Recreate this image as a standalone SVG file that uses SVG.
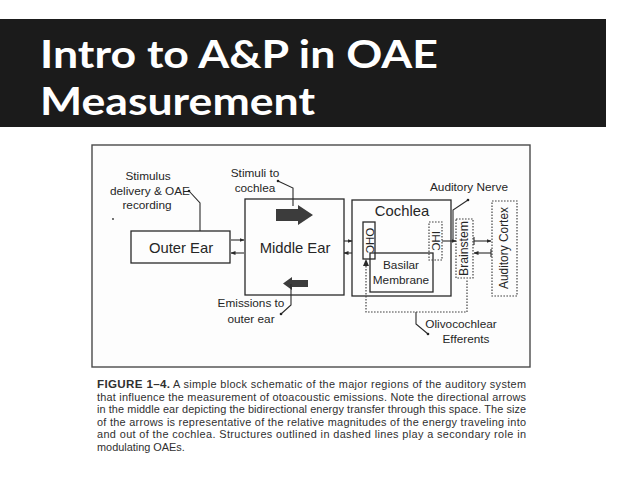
<svg xmlns="http://www.w3.org/2000/svg" width="638" height="479" viewBox="0 0 638 479">
<defs>
<style>
.t{font-family:"Liberation Sans",Arial,sans-serif;fill:#262626}
.lbl{font-size:11.8px}
.big{font-size:14.8px}
.box{fill:none;stroke:#2a2a2a;stroke-width:1.3}
.dash{fill:none;stroke:#444;stroke-width:1.2;stroke-dasharray:1.6 1.4}
.ln{fill:none;stroke:#2a2a2a;stroke-width:1.1}
.cap{font-family:"Liberation Sans",Arial,sans-serif;font-size:10.9px;fill:#303030}
.ttl{font-family:Lato,"Open Sans",sans-serif;font-weight:700;font-size:39px;fill:#ffffff}
</style>
<marker id="ah" viewBox="0 0 10 10" refX="9" refY="5" markerWidth="5" markerHeight="5" orient="auto" markerUnits="userSpaceOnUse">
<path d="M0,1 L10,5 L0,9 z" fill="#2a2a2a"/>
</marker>
</defs>
<rect width="638" height="479" fill="#ffffff"/>
<g id="title">
<rect x="0" y="19" width="606" height="108" fill="#1b1b1b"/>
<text class="ttl" x="40" y="68" textLength="398" lengthAdjust="spacingAndGlyphs">Intro to A&amp;P in OAE</text>
<text class="ttl" x="40" y="115" textLength="275" lengthAdjust="spacingAndGlyphs">Measurement</text>
</g>
<g id="frame"><rect x="92" y="145" width="438" height="222" fill="#fdfdfd" stroke="#4a4a4a" stroke-width="1.4"/></g>
<g id="outer-ear">
<rect class="box" x="131" y="231" width="99" height="32"/>
<text class="t big" x="181" y="253" text-anchor="middle">Outer Ear</text>
</g>
<g id="middle-ear">
<rect class="box" x="245" y="199" width="99" height="96"/>
<text class="t big" x="295" y="253" text-anchor="middle">Middle Ear</text>
<path d="M276,209 L298,209 L298,205 L313,215 L298,225 L298,221 L276,221 z" fill="#3c3c3c"/>
<path d="M308,280 L292,280 L292,277 L283,283.5 L292,290 L292,287 L308,287 z" fill="#3c3c3c"/>
</g>
<g id="cochlea">
<rect class="box" x="352" y="200" width="99" height="96"/>
<text class="t big" x="402" y="216" text-anchor="middle">Cochlea</text>
</g>
<g id="basilar-membrane">
<rect class="box" x="370" y="253" width="63" height="39"/>
<text class="t lbl" x="401" y="269" text-anchor="middle">Basilar</text>
<text class="t lbl" x="401" y="284" text-anchor="middle">Membrane</text>
</g>
<g id="ohc">
<rect class="box" x="363" y="222" width="12" height="37" fill="#fdfdfd"/>
<text class="t" font-size="11.5" x="369" y="240.5" text-anchor="middle" dominant-baseline="middle" transform="rotate(90 369 240.5)">OHC</text>
</g>
<g id="ihc">
<rect class="dash" x="429" y="222" width="13" height="38"/>
<text class="t" font-size="11.5" x="435.5" y="241" text-anchor="middle" dominant-baseline="middle" transform="rotate(90 435.5 241)">IHC</text>
</g>
<g id="brainstem">
<rect class="dash" x="456" y="219" width="17" height="59"/>
<text class="t" font-size="12.5" x="464.5" y="248.5" text-anchor="middle" dominant-baseline="middle" transform="rotate(-90 464.5 248.5)" textLength="55" lengthAdjust="spacingAndGlyphs">Brainstem</text>
</g>
<g id="auditory-cortex">
<rect class="dash" x="492" y="201" width="25" height="95"/>
<text class="t" font-size="12.5" x="504.5" y="248" text-anchor="middle" dominant-baseline="middle" transform="rotate(-90 504.5 248)" textLength="82" lengthAdjust="spacingAndGlyphs">Auditory Cortex</text>
</g>
<g id="labels">
<text class="t lbl" x="148" y="180" text-anchor="middle">Stimulus</text>
<text class="t lbl" x="150" y="195" text-anchor="middle">delivery &amp; OAE</text>
<text class="t lbl" x="147" y="209" text-anchor="middle">recording</text>
<text class="t lbl" x="255" y="177" text-anchor="middle">Stimuli to</text>
<text class="t lbl" x="255" y="192" text-anchor="middle">cochlea</text>
<text class="t lbl" x="251" y="307" text-anchor="middle">Emissions to</text>
<text class="t lbl" x="251" y="323" text-anchor="middle">outer ear</text>
<text class="t lbl" x="469" y="191" text-anchor="middle">Auditory Nerve</text>
<text class="t lbl" x="461" y="328" text-anchor="middle">Olivocochlear</text>
<text class="t lbl" x="466" y="343" text-anchor="middle">Efferents</text>
<circle cx="113" cy="219" r="0.9" fill="#333"/>
</g>
<g id="connectors">
<line class="ln" x1="231" y1="240" x2="244" y2="240" marker-end="url(#ah)"/>
<line class="ln" x1="244" y1="253" x2="231" y2="253" marker-end="url(#ah)"/>
<line class="ln" x1="344" y1="241" x2="352" y2="241" marker-end="url(#ah)"/>
<line class="ln" x1="352" y1="253" x2="344" y2="253" marker-end="url(#ah)"/>
<line class="ln" x1="442" y1="241" x2="456" y2="241" marker-end="url(#ah)"/>
<line class="ln" x1="474" y1="241" x2="491" y2="241" marker-end="url(#ah)"/>
<line class="ln" x1="474" y1="237" x2="474" y2="245"/>
<line class="ln" x1="491" y1="253" x2="474" y2="253" marker-end="url(#ah)"/>
<line class="ln" x1="491" y1="249" x2="491" y2="257"/>
<path class="ln" d="M189,191 L200,203 L200,231"/>
<circle cx="189" cy="191" r="1.3" fill="#222"/>
<path class="ln" d="M278,181 L293,188 L293,206"/>
<circle cx="278" cy="181" r="1.3" fill="#222"/>
<path class="ln" d="M291,284 L291,305 L281,314"/>
<circle cx="281" cy="314" r="1.3" fill="#222"/>
<path class="ln" d="M453,241 L453,210 L468,200"/>
<circle cx="468" cy="200" r="1.3" fill="#222"/>
<path class="ln" d="M416,312 L416,324 L428,334"/>
<circle cx="428" cy="334" r="1.3" fill="#222"/>
<path class="dash" d="M366,266 L366,312 L467,312 L467,279"/>
<path d="M363,266 L366,259 L369,266 z" fill="#2a2a2a"/>
</g>
<g id="caption">
<text class="cap" x="97" y="388" textLength="429" lengthAdjust="spacing"><tspan font-weight="700" font-size="11.6">FIGURE 1–4.</tspan> A simple block schematic of the major regions of the auditory system</text>
<text class="cap" x="97" y="400.6" textLength="429" lengthAdjust="spacing">that influence the measurement of otoacoustic emissions. Note the directional arrows</text>
<text class="cap" x="97" y="413.2" textLength="429" lengthAdjust="spacing">in the middle ear depicting the bidirectional energy transfer through this space. The size</text>
<text class="cap" x="97" y="425.8" textLength="429" lengthAdjust="spacing">of the arrows is representative of the relative magnitudes of the energy traveling into</text>
<text class="cap" x="97" y="438.4" textLength="429" lengthAdjust="spacing">and out of the cochlea. Structures outlined in dashed lines play a secondary role in</text>
<text class="cap" x="97" y="451">modulating OAEs.</text>
</g>
</svg>
